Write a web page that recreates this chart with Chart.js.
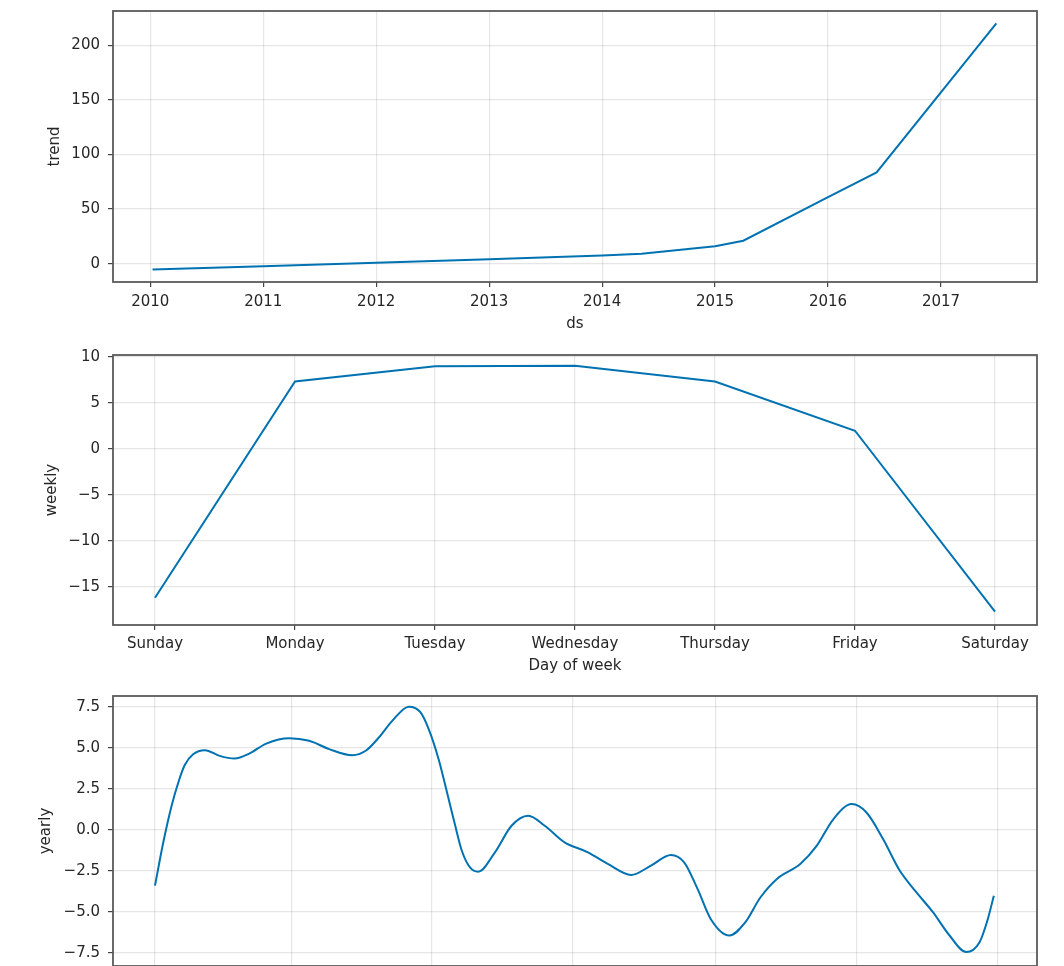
<!DOCTYPE html>
<html>
<head>
<meta charset="utf-8">
<script src="https://cdn.jsdelivr.net/npm/chart.js@4.4.1/dist/chart.umd.min.js"></script>
<style>
  html, body { margin: 0; padding: 0; background: #fff; overflow: hidden; width: 1064px; height: 966px; }
  canvas { position: absolute; left: 0; }
</style>
</head>
<body>
<canvas id="trendChart" width="1064" height="340" style="top:0"></canvas>
<canvas id="weeklyChart" width="1064" height="340" style="top:340px"></canvas>
<canvas id="yearlyChart" width="1064" height="340" style="top:680px"></canvas>
<script>
// trend component
const trendYears = [2010.02, 2011, 2012, 2013, 2014, 2014.35, 2015, 2015.25, 2016, 2016.43, 2017.49];
const trendValues = [-5.4, -2.3, 0.8, 4.0, 7.4, 9.0, 16.0, 21.0, 61.0, 83.5, 220.0];
const trendXTicks = [2010, 2011, 2012, 2013, 2014, 2015, 2016, 2017];
const trendYTicks = [0, 50, 100, 150, 200];

// weekly component
const weekDays = ['Sunday', 'Monday', 'Tuesday', 'Wednesday', 'Thursday', 'Friday', 'Saturday'];
const weeklyValues = [-16.2, 7.3, 8.95, 9.0, 7.3, 1.95, -17.7];
const weeklyYTicks = [-15, -10, -5, 0, 5, 10];

// yearly component (day of year -> value)
const yearlyDays = [0, 3.6, 7.2, 10.1, 12.9, 16.5, 21.6, 28, 34.5, 41, 48.2, 58.2, 66.8, 75.5, 85.5, 91.3, 97, 102.8,
  110, 115, 118.6, 122.9, 126.5, 130, 133, 136.5, 140.1, 147.3, 154.5, 161.7, 168.9, 177.5, 187.6, 196.2, 206.3, 214.9,
  223.6, 229.3, 235.1, 240.8, 248.9, 255.5, 262.4, 269.5, 279.6, 286.8, 294, 301.9, 308.3, 315.5, 322.7, 329.9,
  337.1, 344.3, 351.5, 357.3, 360.9, 363.5];
const yearlyValues = [-3.41, -0.77, 1.46, 2.88, 3.94, 4.6, 4.85, 4.5, 4.34, 4.65, 5.25, 5.58, 5.42, 4.91, 4.54, 4.81, 5.62, 6.63,
  7.5, 7.16, 6.13, 4.3, 2.3, 0.3, -1.3, -2.3, -2.56, -1.38, 0.24, 0.85, 0.24, -0.77, -1.38, -2.09, -2.76, -2.19,
  -1.54, -1.99, -3.61, -5.44, -6.45, -5.7, -4.12, -3.0, -2.09, -0.97, 0.65, 1.56, 1.05, -0.57, -2.49, -3.81,
  -5.03, -6.45, -7.46, -6.86, -5.44, -4.02];
const yearlyXTicks = [0, 59, 120, 181, 243, 304, 365];
const yearlyXLabels = ['January 1', 'March 1', 'May 1', 'July 1', 'September 1', 'November 1', 'January 1'];
const yearlyYTicks = [-7.5, -5, -2.5, 0, 2.5, 5, 7.5];

const LINE = '#0072B2';
const GRID = 'rgba(128,128,128,0.2)';
const INK = '#262626';

Chart.defaults.font.family = 'DejaVu Sans';
Chart.defaults.font.size = 15;
Chart.defaults.color = INK;

const framePlugin = {
  id: 'frame',
  afterDraw(chart) {
    const { ctx, chartArea: a } = chart;
    ctx.save();
    ctx.strokeStyle = '#5a5a5a';
    ctx.lineWidth = 1.8;
    ctx.strokeRect(a.left, a.top, a.right - a.left, a.bottom - a.top);
    ctx.restore();
  }
};

const minus = s => String(s).replace('-', '\u2212');

function makeChart(id, cfg) {
  const ctx = document.getElementById(id).getContext('2d');
  const points = cfg.xs.map((x, i) => ({ x: x, y: cfg.ys[i] }));
  new Chart(ctx, {
    type: 'line',
    data: {
      datasets: [{
        data: points,
        borderColor: LINE,
        borderWidth: 2,
        pointRadius: 0,
        fill: false,
        tension: 0,
        cubicInterpolationMode: cfg.smooth ? 'monotone' : 'default'
      }]
    },
    options: {
      responsive: false,
      animation: false,
      layout: { padding: { top: cfg.top, right: 27, left: 0, bottom: 0 } },
      plugins: { legend: { display: false }, tooltip: { enabled: false } },
      scales: {
        x: {
          type: 'linear',
          min: cfg.xMin,
          max: cfg.xMax,
          afterBuildTicks: s => { s.ticks = cfg.xTicks.map(v => ({ value: v })); },
          afterFit: s => { s.height = cfg.xHeight; s.paddingLeft = 0; s.paddingRight = 0; },
          ticks: { autoSkip: false, maxRotation: 0, padding: cfg.xTickPad, color: INK, callback: cfg.xLabel },
          grid: { color: GRID, lineWidth: 1.2, tickLength: 5, tickColor: '#444', tickWidth: 1.2 },
          border: { display: false },
          title: { display: true, text: cfg.xTitle, color: INK, padding: { top: 0, bottom: cfg.xTitlePad } }
        },
        y: {
          type: 'linear',
          min: cfg.yMin,
          max: cfg.yMax,
          afterBuildTicks: s => { s.ticks = cfg.yTicks.map(v => ({ value: v })); },
          afterFit: s => { s.width = 113; s.paddingTop = 0; s.paddingBottom = 0; },
          ticks: { autoSkip: false, padding: 8, color: INK, callback: cfg.yLabel },
          grid: { color: GRID, lineWidth: 1.2, tickLength: 5, tickColor: '#444', tickWidth: 1.2 },
          border: { display: false },
          title: { display: true, text: cfg.yTitle, color: INK, padding: { top: cfg.yTitlePad, bottom: 0 } }
        }
      }
    },
    plugins: [framePlugin]
  });
}

makeChart('trendChart', {
  xs: trendYears, ys: trendValues, smooth: false, top: 11,
  xMin: 2009.67, xMax: 2017.85, xTicks: trendXTicks, xLabel: v => String(v), xTitle: 'ds', xHeight: 58, xTickPad: 6, xTitlePad: 7,
  yMin: -16.8, yMax: 231.4, yTicks: trendYTicks, yLabel: v => minus(v), yTitle: 'trend', yTitlePad: 46
});

makeChart('weeklyChart', {
  xs: weeklyValues.map((v, i) => i), ys: weeklyValues, smooth: false, top: 15,
  xMin: -0.3, xMax: 6.3, xTicks: weekDays.map((d, i) => i), xLabel: v => weekDays[v], xTitle: 'Day of week', xHeight: 55, xTickPad: 5, xTitlePad: 5,
  yMin: -19.16, yMax: 10.18, yTicks: weeklyYTicks, yLabel: v => minus(v), yTitle: 'weekly', yTitlePad: 43
});

makeChart('yearlyChart', {
  xs: yearlyDays, ys: yearlyValues, smooth: true, top: 16,
  xMin: -18.2, xMax: 382.2, xTicks: yearlyXTicks, xLabel: (v, i) => yearlyXLabels[i], xTitle: 'Day of year', xHeight: 54, xTickPad: 5, xTitlePad: 5,
  yMin: -8.31, yMax: 8.15, yTicks: yearlyYTicks, yLabel: v => minus(v.toFixed(1)), yTitle: 'yearly', yTitlePad: 37
});
</script>
</body>
</html>
